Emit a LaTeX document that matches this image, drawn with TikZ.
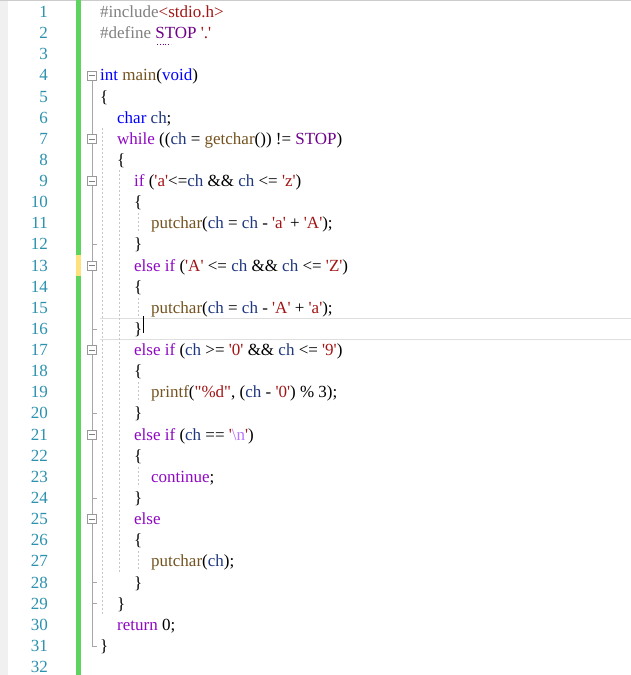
\documentclass[tikz,border=0pt]{standalone}
\usepackage{fontspec}
\setmainfont{Liberation Serif}[Ligatures=TeXOff]
\definecolor{cpre}{HTML}{808080}
\definecolor{cstr}{HTML}{A31515}
\definecolor{cctl}{HTML}{8F08C4}
\definecolor{ckw}{HTML}{0000FF}
\definecolor{cfn}{HTML}{74531F}
\definecolor{cvar}{HTML}{1F377F}
\definecolor{cmac}{HTML}{6F008A}
\definecolor{cesc}{HTML}{B776FB}
\definecolor{cnum}{HTML}{2B91AF}
\definecolor{cgreen}{HTML}{5FD35F}
\newcommand\Pp[1]{\textcolor{cpre}{#1}}
\newcommand\Ss[1]{\textcolor{cstr}{#1}}
\newcommand\Cc[1]{\textcolor{cctl}{#1}}
\newcommand\Kw[1]{\textcolor{ckw}{#1}}
\newcommand\Fn[1]{\textcolor{cfn}{#1}}
\newcommand\Vv{\textcolor{cvar}{ch}}
\newcommand\Mm[1]{\textcolor{cmac}{#1}}
\newcommand\Q{\textquotesingle}
\tikzset{code/.style={anchor=base west,inner sep=0pt,font=\fontsize{17}{20}\selectfont},
 lnum/.style={anchor=base east,inner sep=0pt,text=cnum,font=\fontsize{17}{20}\selectfont},
 fold/.style={draw=gray!80,fill=white,minimum size=9pt,inner sep=0pt},
 guide/.style={draw=gray!45,dashed,dash pattern=on 2pt off 2pt},
 foldline/.style={draw=gray!70}}
\newcommand\Y[1]{-(12+(#1-1)*21.13)}
\newcommand\codeline[3]{\node[code] (c#1) at (#2,{\Y{#1}-5.5}) {#3};}
\begin{document}
\begin{tikzpicture}[x=1pt,y=1pt]
\useasboundingbox (0,0) rectangle (631,-675);
\fill[white] (0,0) rectangle (631,-675);
\fill[gray!12] (0,0) rectangle (8,-675);
\draw[gray!40] (0,-0.5) -- (631,-0.5);
\fill[cgreen] (76,0) rectangle (81,-675);
\fill[yellow!60!orange!50] (76,{\Y{13}-10.5}) rectangle (81,{\Y{13}+10.5});
% line 16 highlight
\draw[gray!25,line width=1pt] (100,{\Y{16}+10.5}) -- (631,{\Y{16}+10.5}) (100,{\Y{16}-10.5}) -- (631,{\Y{16}-10.5});
% line numbers
\foreach \i in {1,...,32} {\node[lnum] (n\i) at (48,{\Y{\i}-5.5}) {\i};}
% fold lines
\draw[foldline] (92,{\Y{4}}) -- (92,{\Y{31}}) -- (97,{\Y{31}});
\foreach \e in {12,16,20,24,28,29} {\draw[foldline] (92,{\Y{\e}}) -- (97,{\Y{\e}});}
\foreach \f in {4,7,9,13,17,21,25} {\node[fold] (f\f) at (92,{\Y{\f}}) {}; \draw[gray] ([xshift=2pt]f\f.west) -- ([xshift=-2pt]f\f.east);}
% guides
\draw[guide] (102,{\Y{6}-10}) -- (102,{\Y{30}+10});
\draw[guide] (119,{\Y{8}-10}) -- (119,{\Y{28}+10});
\foreach \a/\b in {11/11,15/15,19/19,23/23,27/27} {\draw[guide] (138,{\Y{\a}+10}) -- (138,{\Y{\b}-10});}
% code
\codeline{1}{100}{\Pp{\#include}\Ss{<stdio.h>}}
\codeline{2}{100}{\Pp{\#define} \Mm{STOP} \Ss{\Q.\Q}}
\draw[cmac,dotted,thick] (157,{\Y{2}-11}) -- (171,{\Y{2}-11});
\codeline{4}{100}{\Kw{int} \Fn{main}(\Kw{void})}
\codeline{5}{100}{\{}
\codeline{6}{117}{\Kw{char} \Vv;}
\codeline{7}{117}{\Cc{while} ((\Vv{} = \Fn{getchar}()) != \Mm{STOP})}
\codeline{8}{117}{\{}
\codeline{9}{134}{\Cc{if} (\Ss{\Q a\Q}<=\Vv{} \&\& \Vv{} <= \Ss{\Q z\Q})}
\codeline{10}{134}{\{}
\codeline{11}{151}{\Fn{putchar}(\Vv{} = \Vv{} - \Ss{\Q a\Q} + \Ss{\Q A\Q});}
\codeline{12}{134}{\}}
\codeline{13}{134}{\Cc{else if} (\Ss{\Q A\Q} <= \Vv{} \&\& \Vv{} <= \Ss{\Q Z\Q})}
\codeline{14}{134}{\{}
\codeline{15}{151}{\Fn{putchar}(\Vv{} = \Vv{} - \Ss{\Q A\Q} + \Ss{\Q a\Q});}
\codeline{16}{134}{\}}
\draw[black] (c16.east) ++(1,-3) -- ++(0,17);
\codeline{17}{134}{\Cc{else if} (\Vv{} >= \Ss{\Q 0\Q} \&\& \Vv{} <= \Ss{\Q 9\Q})}
\codeline{18}{134}{\{}
\codeline{19}{151}{\Fn{printf}(\Ss{"\%d"}, (\Vv{} - \Ss{\Q 0\Q}) \% 3);}
\codeline{20}{134}{\}}
\codeline{21}{134}{\Cc{else if} (\Vv{} == \Ss{\Q}\textcolor{cesc}{\textbackslash n}\Ss{\Q})}
\codeline{22}{134}{\{}
\codeline{23}{151}{\Cc{continue};}
\codeline{24}{134}{\}}
\codeline{25}{134}{\Cc{else}}
\codeline{26}{134}{\{}
\codeline{27}{151}{\Fn{putchar}(\Vv);}
\codeline{28}{134}{\}}
\codeline{29}{117}{\}}
\codeline{30}{117}{\Cc{return} 0;}
\codeline{31}{100}{\}}
\end{tikzpicture}
\end{document}
